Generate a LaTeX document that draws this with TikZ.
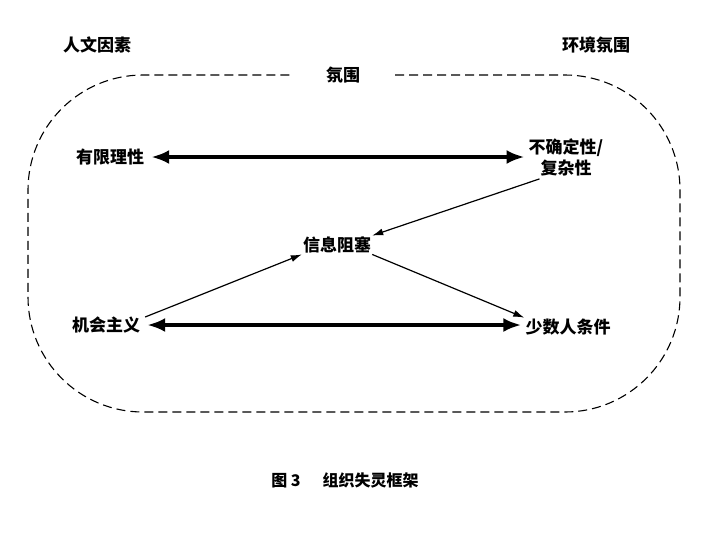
\documentclass[tikz,border=0pt]{standalone}
\usepackage{fontspec}
\newfontfamily\cjk{Noto Sans CJK SC}
\usetikzlibrary{arrows.meta}
\begin{document}
\begin{tikzpicture}[x=1pt,y=-1pt,
  lbl/.style={font=\cjk\bfseries\fontsize{17}{21}\selectfont,inner sep=1pt},
  thick2/.style={line width=4pt,{Latex[length=18pt,width=14pt]}-{Latex[length=18pt,width=14pt]}},
  thin/.style={line width=1.2pt,-{Latex[length=11pt,width=7pt]}}]
\useasboundingbox (0,0) rectangle (706,555);
\node[lbl] (hr) at (97,45) {人文因素};
\node[lbl] (hj) at (596,45) {环境氛围};
\node[lbl] (fw) at (343,75) {氛围};
\coordinate (g1) at (395,75);
\coordinate (g2) at (290,75);
\draw[line width=1.1pt,dash pattern=on 9pt off 5pt,rounded corners=115] (g1) -- (680,75) -- (680,412) -- (28,412) -- (28,75) -- (g2);
\node[lbl] (yx) at (110,157) {有限理性};
\node[lbl,align=center] (bq) at (566,157) {不确定性/\\复杂性};
\node[lbl] (xx) at (337,245) {信息阻塞};
\node[lbl] (jh) at (106,325) {机会主义};
\node[lbl] (ss) at (568,327) {少数人条件};
\node[font=\cjk\bfseries\fontsize{16}{19}\selectfont] (cap) at (345,480) {图 3\hspace{22pt}组织失灵框架};
\draw[thick2] (yx.east)++(6,0) coordinate (a1) (a1) -- ([xshift=-3pt]bq.west|-yx.east);
\draw[thick2] (jh.east)++(6,0) coordinate (a2) (a2) -- ([xshift=-3pt]ss.west|-jh.east);
\draw[thin] (bq.south west)++(12,2) coordinate (b1) (b1) -- (xx.north east);
\draw[thin] (jh.east)++(4,-8) coordinate (b2) (b2) -- (xx.south west);
\draw[thin] (xx.south east) -- (ss.north west);
\end{tikzpicture}
\end{document}
